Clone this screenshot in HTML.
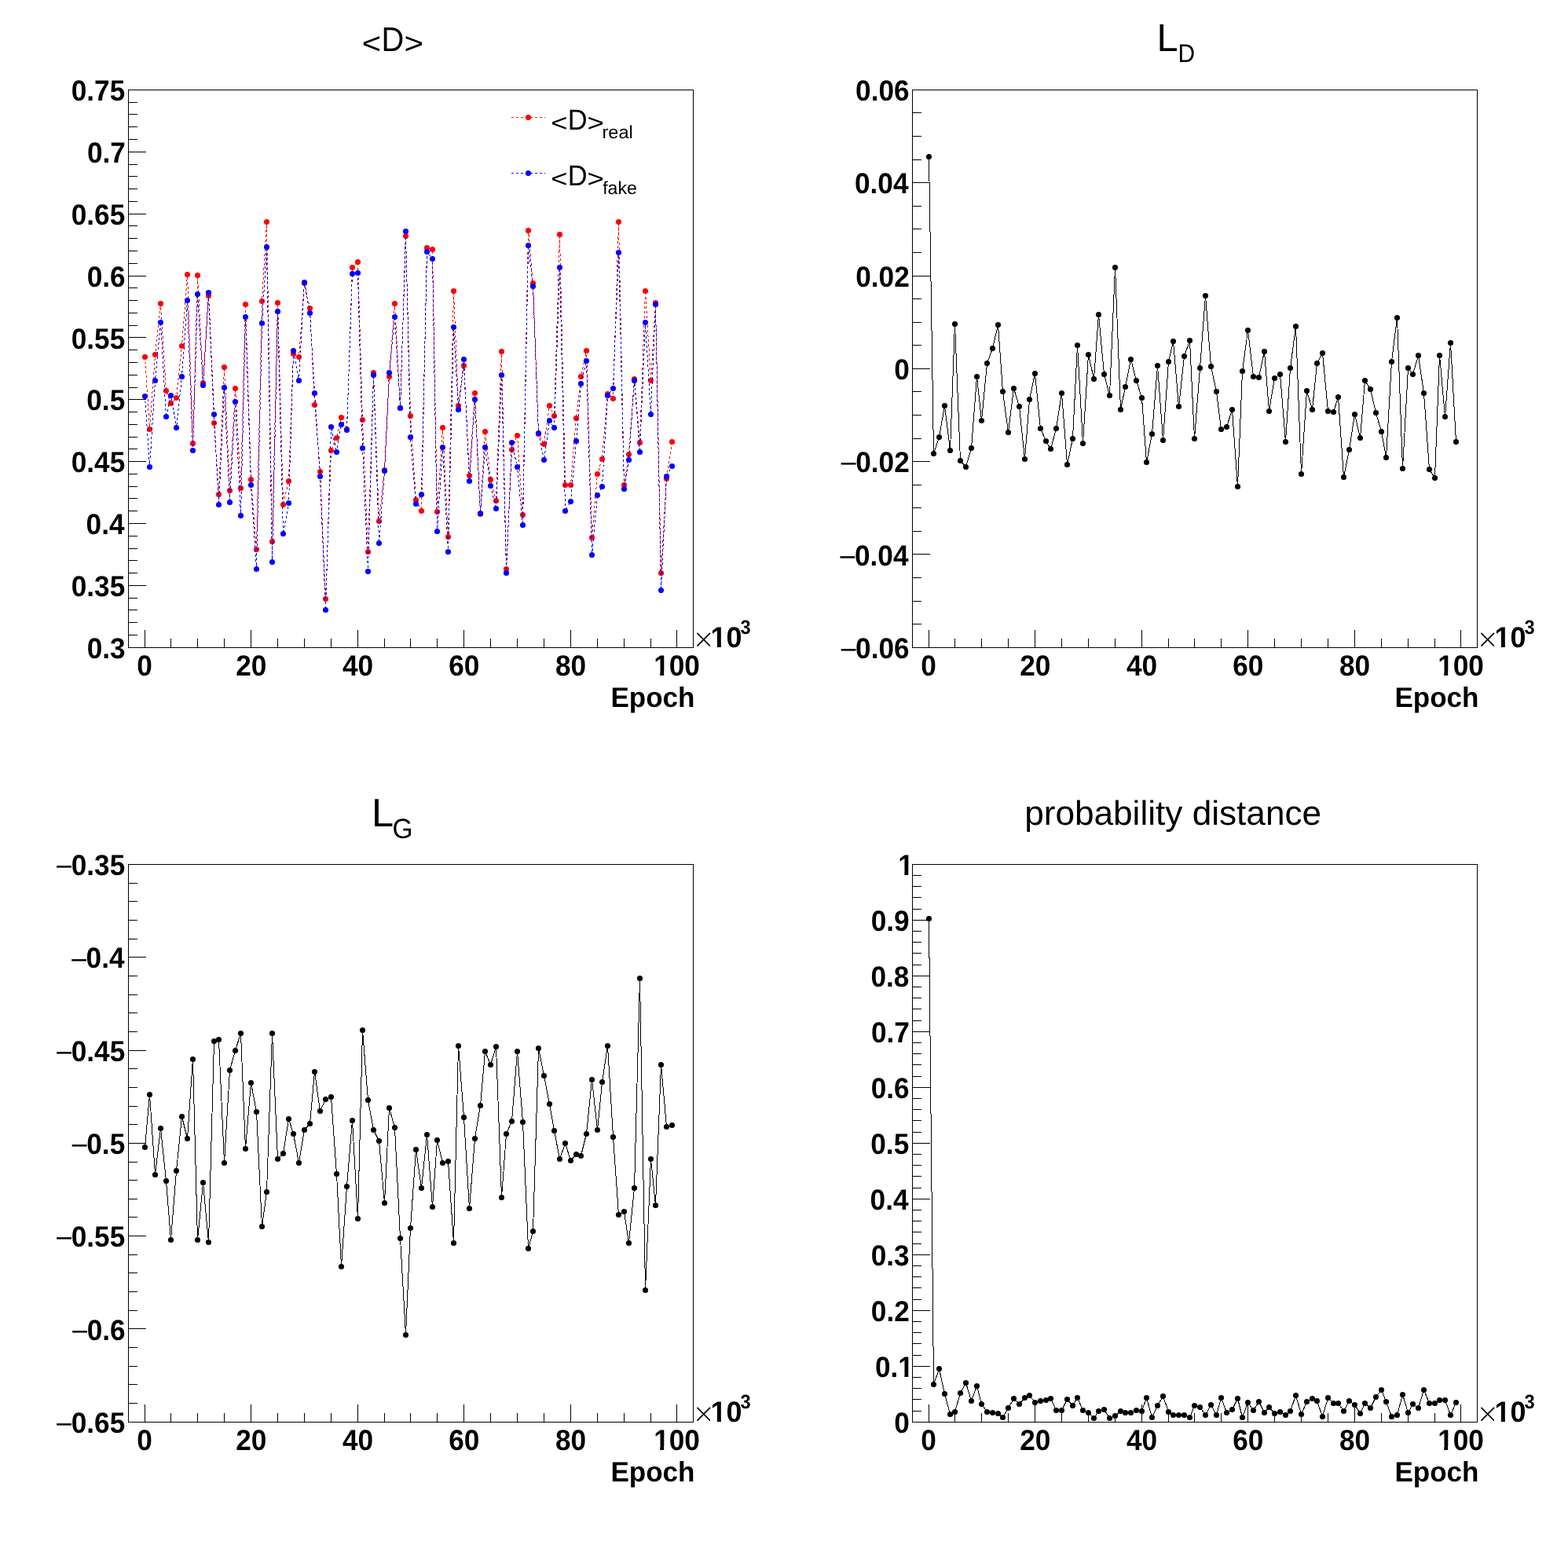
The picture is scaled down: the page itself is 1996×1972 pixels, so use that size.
<!DOCTYPE html>
<html lang="en"><head><meta charset="utf-8"><title>GAN training monitor</title>
<style>html,body{margin:0;padding:0;background:#fff}body{width:1996px;height:1972px;overflow:hidden}svg{display:block}text{font-family:'Liberation Sans', sans-serif;fill:#000;white-space:pre;text-rendering:geometricPrecision}.b{font-weight:bold}.x{font-family:"DejaVu Sans","Liberation Sans",sans-serif;font-weight:200}.ax{stroke:#000;stroke-width:1;fill:none;shape-rendering:crispEdges}.ln{fill:none;stroke-width:1;shape-rendering:crispEdges;stroke-linejoin:miter}</style></head><body>
<svg width="1996" height="1972" viewBox="0 0 1996 1972">
<defs><clipPath id="c1"><path clip-rule="evenodd" d="M0 0H1996V1972H0ZM831.78 854.87H840.26V860.61H831.78ZM845.18 854.87H851.55V860.61H845.18Z"/></clipPath><clipPath id="c2"><path clip-rule="evenodd" d="M0 0H1996V1972H0ZM904.21 819.67H912.86V825.41H904.21ZM917.89 819.67H924.39V825.41H917.89Z"/></clipPath><clipPath id="c3"><path clip-rule="evenodd" d="M0 0H1996V1972H0ZM1829.78 854.87H1838.26V860.61H1829.78ZM1843.18 854.87H1849.55V860.61H1843.18Z"/></clipPath><clipPath id="c4"><path clip-rule="evenodd" d="M0 0H1996V1972H0ZM1902.21 819.67H1910.86V825.41H1902.21ZM1915.89 819.67H1922.39V825.41H1915.89Z"/></clipPath><clipPath id="c5"><path clip-rule="evenodd" d="M0 0H1996V1972H0ZM831.78 1840.87H840.26V1846.61H831.78ZM845.18 1840.87H851.55V1846.61H845.18Z"/></clipPath><clipPath id="c6"><path clip-rule="evenodd" d="M0 0H1996V1972H0ZM904.21 1805.67H912.86V1811.41H904.21ZM917.89 1805.67H924.39V1811.41H917.89Z"/></clipPath><clipPath id="c7"><path clip-rule="evenodd" d="M0 0H1996V1972H0ZM1142.89 1748.28H1151.37V1754.01H1142.89ZM1156.3 1748.28H1162.67V1754.01H1156.3Z"/></clipPath><clipPath id="c8"><path clip-rule="evenodd" d="M0 0H1996V1972H0ZM1142.89 1109.35H1151.37V1115.09H1142.89ZM1156.3 1109.35H1162.67V1115.09H1156.3Z"/></clipPath><clipPath id="c9"><path clip-rule="evenodd" d="M0 0H1996V1972H0ZM1829.78 1840.87H1838.26V1846.61H1829.78ZM1843.18 1840.87H1849.55V1846.61H1843.18Z"/></clipPath><clipPath id="c10"><path clip-rule="evenodd" d="M0 0H1996V1972H0ZM1902.21 1805.67H1910.86V1811.41H1902.21ZM1915.89 1805.67H1922.39V1811.41H1915.89Z"/></clipPath></defs>
<rect x="0" y="0" width="1996" height="1972" fill="#fff"/>
<g id="pad1">
<text><tspan x="460.82" y="67.92" font-size="37.65" textLength="24.32" lengthAdjust="spacingAndGlyphs">&lt;</tspan><tspan x="485.61" y="65" font-size="43.48" textLength="28.77" lengthAdjust="spacingAndGlyphs">D</tspan><tspan x="514.5" y="67.92" font-size="37.65" textLength="24.56" lengthAdjust="spacingAndGlyphs">&gt;</tspan></text><path class="ln" stroke="#ff0000" stroke-dasharray="3 3" d="M651 149.5H694"/><circle cx="672.5" cy="149.5" r="3.55" fill="#ff0000"/><text><tspan x="701.29" y="167.44" font-size="31.18" textLength="21.19" lengthAdjust="spacingAndGlyphs">&lt;</tspan><tspan x="722.84" y="165" font-size="36.67" textLength="24.88" lengthAdjust="spacingAndGlyphs">D</tspan><tspan x="747.46" y="167.44" font-size="31.18" textLength="21.43" lengthAdjust="spacingAndGlyphs">&gt;</tspan><tspan x="766.47" y="175.9" font-size="22.9" textLength="39.22" lengthAdjust="spacingAndGlyphs">real</tspan></text><path class="ln" stroke="#0000ff" stroke-dasharray="3 3" d="M651 220.5H694"/><circle cx="672.5" cy="220.5" r="3.55" fill="#0000ff"/><text><tspan x="701.29" y="238.14" font-size="31.18" textLength="21.19" lengthAdjust="spacingAndGlyphs">&lt;</tspan><tspan x="722.84" y="235.7" font-size="36.67" textLength="24.88" lengthAdjust="spacingAndGlyphs">D</tspan><tspan x="747.46" y="238.14" font-size="31.18" textLength="21.43" lengthAdjust="spacingAndGlyphs">&gt;</tspan><tspan x="767.15" y="246.8" font-size="22.9" textLength="43.69" lengthAdjust="spacingAndGlyphs">fake</tspan></text>
<rect class="ax" x="163.5" y="114.5" width="719" height="710"/>
<path class="ax" d="M184.5 825V802M217.5 825V813M251.5 825V813M285.5 825V813M319.5 825V802M353.5 825V813M387.5 825V813M421.5 825V813M455.5 825V802M489.5 825V813M522.5 825V813M556.5 825V813M590.5 825V802M624.5 825V813M658.5 825V813M692.5 825V813M726.5 825V802M760.5 825V813M794.5 825V813M828.5 825V813M861.5 825V802M163 824.5H186M163 808.5H175M163 792.5H175M163 776.5H175M163 761.5H175M163 745.5H186M163 729.5H175M163 713.5H175M163 698.5H175M163 682.5H175M163 666.5H186M163 650.5H175M163 634.5H175M163 619.5H175M163 603.5H175M163 587.5H186M163 571.5H175M163 556.5H175M163 540.5H175M163 524.5H175M163 508.5H186M163 493.5H175M163 477.5H175M163 461.5H175M163 445.5H175M163 429.5H186M163 414.5H175M163 398.5H175M163 382.5H175M163 366.5H175M163 351.5H186M163 335.5H175M163 319.5H175M163 303.5H175M163 287.5H175M163 272.5H186M163 256.5H175M163 240.5H175M163 224.5H175M163 209.5H175M163 193.5H186M163 177.5H175M163 161.5H175M163 145.5H175M163 130.5H175M163 114.5H186"/>
<text class="b" x="110.66" y="837.9" font-size="37" textLength="48.91" lengthAdjust="spacingAndGlyphs">0.3</text>
<text class="b" x="90.74" y="759.02" font-size="37" textLength="68.47" lengthAdjust="spacingAndGlyphs">0.35</text>
<text class="b" x="109.6" y="680.14" font-size="37" textLength="48.91" lengthAdjust="spacingAndGlyphs">0.4</text>
<text class="b" x="90.74" y="601.26" font-size="37" textLength="68.47" lengthAdjust="spacingAndGlyphs">0.45</text>
<text class="b" x="110.3" y="522.38" font-size="37" textLength="48.91" lengthAdjust="spacingAndGlyphs">0.5</text>
<text class="b" x="90.74" y="443.5" font-size="37" textLength="68.47" lengthAdjust="spacingAndGlyphs">0.55</text>
<text class="b" x="110.66" y="364.62" font-size="37" textLength="48.91" lengthAdjust="spacingAndGlyphs">0.6</text>
<text class="b" x="90.74" y="285.74" font-size="37" textLength="68.47" lengthAdjust="spacingAndGlyphs">0.65</text>
<text class="b" x="111.01" y="206.86" font-size="37" textLength="48.91" lengthAdjust="spacingAndGlyphs">0.7</text>
<text class="b" x="90.74" y="127.98" font-size="37" textLength="68.47" lengthAdjust="spacingAndGlyphs">0.75</text>
<text class="b" x="174.24" y="859.5" font-size="37" textLength="19.56" lengthAdjust="spacingAndGlyphs">0</text>
<text class="b" x="300.13" y="859.5" font-size="37" textLength="39.13" lengthAdjust="spacingAndGlyphs">20</text>
<text class="b" x="436.06" y="859.5" font-size="37" textLength="39.13" lengthAdjust="spacingAndGlyphs">40</text>
<text class="b" x="571.28" y="859.5" font-size="37" textLength="39.13" lengthAdjust="spacingAndGlyphs">60</text>
<text class="b" x="706.95" y="859.5" font-size="37" textLength="39.13" lengthAdjust="spacingAndGlyphs">80</text>
<text class="b" x="832.13" y="859.5" font-size="37" textLength="58.69" lengthAdjust="spacingAndGlyphs" clip-path="url(#c1)">100</text>
<text><tspan class="b" x="777.42" y="900.2" font-size="35.8" textLength="107.1" lengthAdjust="spacingAndGlyphs">Epoch</tspan></text>
<text clip-path="url(#c2)"><tspan class="x" x="881.27" y="825.3" font-size="34.3" textLength="28.96" lengthAdjust="spacingAndGlyphs">×</tspan><tspan class="b" x="904.57" y="824.3" font-size="37" textLength="39.95" lengthAdjust="spacingAndGlyphs">10</tspan><tspan class="b" x="942.61" y="807.4" font-size="25.2" textLength="13.15" lengthAdjust="spacingAndGlyphs">3</tspan></text>
<polyline class="ln" stroke="#ff0000" stroke-dasharray="3 3" points="184.5,454.5 190.5,546.5 197.5,451.5 204.5,386.5 211.5,497.5 217.5,513.5 224.5,506.5 231.5,440.5 238.5,349.5 245.5,564.5 251.5,350.5 258.5,487.5 265.5,376.5 272.5,538.5 278.5,629.5 285.5,467.5 292.5,624.5 299.5,494.5 306.5,621.5 312.5,387.5 319.5,610.5 326.5,699.5 333.5,383.5 339.5,282.5 346.5,689.5 353.5,385.5 360.5,642.5 367.5,612.5 373.5,450.5 380.5,454.5 387.5,360.5 394.5,392.5 400.5,515.5 407.5,600.5 414.5,762.5 421.5,573.5 428.5,557.5 434.5,531.5 441.5,546.5 448.5,340.5 455.5,333.5 461.5,534.5 468.5,702.5 475.5,474.5 482.5,663.5 489.5,598.5 495.5,479.5 502.5,386.5 509.5,519.5 516.5,300.5 522.5,529.5 529.5,636.5 536.5,650.5 543.5,315.5 550.5,317.5 556.5,651.5 563.5,544.5 570.5,683.5 577.5,370.5 583.5,516.5 590.5,465.5 597.5,605.5 604.5,500.5 611.5,654.5 617.5,549.5 624.5,610.5 631.5,637.5 638.5,447.5 644.5,724.5 651.5,572.5 658.5,554.5 665.5,655.5 672.5,293.5 678.5,360.5 685.5,552.5 692.5,565.5 699.5,516.5 705.5,529.5 712.5,298.5 719.5,617.5 726.5,617.5 733.5,532.5 739.5,479.5 746.5,446.5 753.5,684.5 760.5,603.5 766.5,584.5 773.5,501.5 780.5,507.5 787.5,282.5 794.5,617.5 800.5,578.5 807.5,482.5 814.5,563.5 821.5,370.5 828.5,484.5 834.5,385.5 841.5,729.5 848.5,609.5 855.5,562.5"/>
<g fill="#ff0000"><circle cx="184.5" cy="454.5" r="3.55"/><circle cx="190.5" cy="546.5" r="3.55"/><circle cx="197.5" cy="451.5" r="3.55"/><circle cx="204.5" cy="386.5" r="3.55"/><circle cx="211.5" cy="497.5" r="3.55"/><circle cx="217.5" cy="513.5" r="3.55"/><circle cx="224.5" cy="506.5" r="3.55"/><circle cx="231.5" cy="440.5" r="3.55"/><circle cx="238.5" cy="349.5" r="3.55"/><circle cx="245.5" cy="564.5" r="3.55"/><circle cx="251.5" cy="350.5" r="3.55"/><circle cx="258.5" cy="487.5" r="3.55"/><circle cx="265.5" cy="376.5" r="3.55"/><circle cx="272.5" cy="538.5" r="3.55"/><circle cx="278.5" cy="629.5" r="3.55"/><circle cx="285.5" cy="467.5" r="3.55"/><circle cx="292.5" cy="624.5" r="3.55"/><circle cx="299.5" cy="494.5" r="3.55"/><circle cx="306.5" cy="621.5" r="3.55"/><circle cx="312.5" cy="387.5" r="3.55"/><circle cx="319.5" cy="610.5" r="3.55"/><circle cx="326.5" cy="699.5" r="3.55"/><circle cx="333.5" cy="383.5" r="3.55"/><circle cx="339.5" cy="282.5" r="3.55"/><circle cx="346.5" cy="689.5" r="3.55"/><circle cx="353.5" cy="385.5" r="3.55"/><circle cx="360.5" cy="642.5" r="3.55"/><circle cx="367.5" cy="612.5" r="3.55"/><circle cx="373.5" cy="450.5" r="3.55"/><circle cx="380.5" cy="454.5" r="3.55"/><circle cx="387.5" cy="360.5" r="3.55"/><circle cx="394.5" cy="392.5" r="3.55"/><circle cx="400.5" cy="515.5" r="3.55"/><circle cx="407.5" cy="600.5" r="3.55"/><circle cx="414.5" cy="762.5" r="3.55"/><circle cx="421.5" cy="573.5" r="3.55"/><circle cx="428.5" cy="557.5" r="3.55"/><circle cx="434.5" cy="531.5" r="3.55"/><circle cx="441.5" cy="546.5" r="3.55"/><circle cx="448.5" cy="340.5" r="3.55"/><circle cx="455.5" cy="333.5" r="3.55"/><circle cx="461.5" cy="534.5" r="3.55"/><circle cx="468.5" cy="702.5" r="3.55"/><circle cx="475.5" cy="474.5" r="3.55"/><circle cx="482.5" cy="663.5" r="3.55"/><circle cx="489.5" cy="598.5" r="3.55"/><circle cx="495.5" cy="479.5" r="3.55"/><circle cx="502.5" cy="386.5" r="3.55"/><circle cx="509.5" cy="519.5" r="3.55"/><circle cx="516.5" cy="300.5" r="3.55"/><circle cx="522.5" cy="529.5" r="3.55"/><circle cx="529.5" cy="636.5" r="3.55"/><circle cx="536.5" cy="650.5" r="3.55"/><circle cx="543.5" cy="315.5" r="3.55"/><circle cx="550.5" cy="317.5" r="3.55"/><circle cx="556.5" cy="651.5" r="3.55"/><circle cx="563.5" cy="544.5" r="3.55"/><circle cx="570.5" cy="683.5" r="3.55"/><circle cx="577.5" cy="370.5" r="3.55"/><circle cx="583.5" cy="516.5" r="3.55"/><circle cx="590.5" cy="465.5" r="3.55"/><circle cx="597.5" cy="605.5" r="3.55"/><circle cx="604.5" cy="500.5" r="3.55"/><circle cx="611.5" cy="654.5" r="3.55"/><circle cx="617.5" cy="549.5" r="3.55"/><circle cx="624.5" cy="610.5" r="3.55"/><circle cx="631.5" cy="637.5" r="3.55"/><circle cx="638.5" cy="447.5" r="3.55"/><circle cx="644.5" cy="724.5" r="3.55"/><circle cx="651.5" cy="572.5" r="3.55"/><circle cx="658.5" cy="554.5" r="3.55"/><circle cx="665.5" cy="655.5" r="3.55"/><circle cx="672.5" cy="293.5" r="3.55"/><circle cx="678.5" cy="360.5" r="3.55"/><circle cx="685.5" cy="552.5" r="3.55"/><circle cx="692.5" cy="565.5" r="3.55"/><circle cx="699.5" cy="516.5" r="3.55"/><circle cx="705.5" cy="529.5" r="3.55"/><circle cx="712.5" cy="298.5" r="3.55"/><circle cx="719.5" cy="617.5" r="3.55"/><circle cx="726.5" cy="617.5" r="3.55"/><circle cx="733.5" cy="532.5" r="3.55"/><circle cx="739.5" cy="479.5" r="3.55"/><circle cx="746.5" cy="446.5" r="3.55"/><circle cx="753.5" cy="684.5" r="3.55"/><circle cx="760.5" cy="603.5" r="3.55"/><circle cx="766.5" cy="584.5" r="3.55"/><circle cx="773.5" cy="501.5" r="3.55"/><circle cx="780.5" cy="507.5" r="3.55"/><circle cx="787.5" cy="282.5" r="3.55"/><circle cx="794.5" cy="617.5" r="3.55"/><circle cx="800.5" cy="578.5" r="3.55"/><circle cx="807.5" cy="482.5" r="3.55"/><circle cx="814.5" cy="563.5" r="3.55"/><circle cx="821.5" cy="370.5" r="3.55"/><circle cx="828.5" cy="484.5" r="3.55"/><circle cx="834.5" cy="385.5" r="3.55"/><circle cx="841.5" cy="729.5" r="3.55"/><circle cx="848.5" cy="609.5" r="3.55"/><circle cx="855.5" cy="562.5" r="3.55"/></g>
<polyline class="ln" stroke="#0000ff" stroke-dasharray="3 3" points="184.5,504.5 190.5,594.5 197.5,484.5 204.5,410.5 211.5,530.5 217.5,503.5 224.5,544.5 231.5,479.5 238.5,382.5 245.5,573.5 251.5,374.5 258.5,490.5 265.5,372.5 272.5,527.5 278.5,642.5 285.5,493.5 292.5,639.5 299.5,511.5 306.5,656.5 312.5,403.5 319.5,617.5 326.5,724.5 333.5,411.5 339.5,314.5 346.5,715.5 353.5,396.5 360.5,679.5 367.5,640.5 373.5,446.5 380.5,484.5 387.5,359.5 394.5,398.5 400.5,500.5 407.5,606.5 414.5,776.5 421.5,543.5 428.5,575.5 434.5,540.5 441.5,547.5 448.5,348.5 455.5,347.5 461.5,570.5 468.5,727.5 475.5,477.5 482.5,691.5 489.5,599.5 495.5,474.5 502.5,403.5 509.5,519.5 516.5,294.5 522.5,556.5 529.5,641.5 536.5,629.5 543.5,320.5 550.5,329.5 556.5,676.5 563.5,569.5 570.5,702.5 577.5,416.5 583.5,521.5 590.5,457.5 597.5,612.5 604.5,508.5 611.5,653.5 617.5,569.5 624.5,618.5 631.5,647.5 638.5,477.5 644.5,729.5 651.5,563.5 658.5,594.5 665.5,668.5 672.5,312.5 678.5,364.5 685.5,551.5 692.5,585.5 699.5,535.5 705.5,544.5 712.5,340.5 719.5,650.5 726.5,638.5 733.5,561.5 739.5,488.5 746.5,459.5 753.5,706.5 760.5,630.5 766.5,619.5 773.5,503.5 780.5,494.5 787.5,321.5 794.5,622.5 800.5,585.5 807.5,484.5 814.5,575.5 821.5,410.5 828.5,527.5 834.5,387.5 841.5,751.5 848.5,606.5 855.5,593.5"/>
<g fill="#0000ff"><circle cx="184.5" cy="504.5" r="3.55"/><circle cx="190.5" cy="594.5" r="3.55"/><circle cx="197.5" cy="484.5" r="3.55"/><circle cx="204.5" cy="410.5" r="3.55"/><circle cx="211.5" cy="530.5" r="3.55"/><circle cx="217.5" cy="503.5" r="3.55"/><circle cx="224.5" cy="544.5" r="3.55"/><circle cx="231.5" cy="479.5" r="3.55"/><circle cx="238.5" cy="382.5" r="3.55"/><circle cx="245.5" cy="573.5" r="3.55"/><circle cx="251.5" cy="374.5" r="3.55"/><circle cx="258.5" cy="490.5" r="3.55"/><circle cx="265.5" cy="372.5" r="3.55"/><circle cx="272.5" cy="527.5" r="3.55"/><circle cx="278.5" cy="642.5" r="3.55"/><circle cx="285.5" cy="493.5" r="3.55"/><circle cx="292.5" cy="639.5" r="3.55"/><circle cx="299.5" cy="511.5" r="3.55"/><circle cx="306.5" cy="656.5" r="3.55"/><circle cx="312.5" cy="403.5" r="3.55"/><circle cx="319.5" cy="617.5" r="3.55"/><circle cx="326.5" cy="724.5" r="3.55"/><circle cx="333.5" cy="411.5" r="3.55"/><circle cx="339.5" cy="314.5" r="3.55"/><circle cx="346.5" cy="715.5" r="3.55"/><circle cx="353.5" cy="396.5" r="3.55"/><circle cx="360.5" cy="679.5" r="3.55"/><circle cx="367.5" cy="640.5" r="3.55"/><circle cx="373.5" cy="446.5" r="3.55"/><circle cx="380.5" cy="484.5" r="3.55"/><circle cx="387.5" cy="359.5" r="3.55"/><circle cx="394.5" cy="398.5" r="3.55"/><circle cx="400.5" cy="500.5" r="3.55"/><circle cx="407.5" cy="606.5" r="3.55"/><circle cx="414.5" cy="776.5" r="3.55"/><circle cx="421.5" cy="543.5" r="3.55"/><circle cx="428.5" cy="575.5" r="3.55"/><circle cx="434.5" cy="540.5" r="3.55"/><circle cx="441.5" cy="547.5" r="3.55"/><circle cx="448.5" cy="348.5" r="3.55"/><circle cx="455.5" cy="347.5" r="3.55"/><circle cx="461.5" cy="570.5" r="3.55"/><circle cx="468.5" cy="727.5" r="3.55"/><circle cx="475.5" cy="477.5" r="3.55"/><circle cx="482.5" cy="691.5" r="3.55"/><circle cx="489.5" cy="599.5" r="3.55"/><circle cx="495.5" cy="474.5" r="3.55"/><circle cx="502.5" cy="403.5" r="3.55"/><circle cx="509.5" cy="519.5" r="3.55"/><circle cx="516.5" cy="294.5" r="3.55"/><circle cx="522.5" cy="556.5" r="3.55"/><circle cx="529.5" cy="641.5" r="3.55"/><circle cx="536.5" cy="629.5" r="3.55"/><circle cx="543.5" cy="320.5" r="3.55"/><circle cx="550.5" cy="329.5" r="3.55"/><circle cx="556.5" cy="676.5" r="3.55"/><circle cx="563.5" cy="569.5" r="3.55"/><circle cx="570.5" cy="702.5" r="3.55"/><circle cx="577.5" cy="416.5" r="3.55"/><circle cx="583.5" cy="521.5" r="3.55"/><circle cx="590.5" cy="457.5" r="3.55"/><circle cx="597.5" cy="612.5" r="3.55"/><circle cx="604.5" cy="508.5" r="3.55"/><circle cx="611.5" cy="653.5" r="3.55"/><circle cx="617.5" cy="569.5" r="3.55"/><circle cx="624.5" cy="618.5" r="3.55"/><circle cx="631.5" cy="647.5" r="3.55"/><circle cx="638.5" cy="477.5" r="3.55"/><circle cx="644.5" cy="729.5" r="3.55"/><circle cx="651.5" cy="563.5" r="3.55"/><circle cx="658.5" cy="594.5" r="3.55"/><circle cx="665.5" cy="668.5" r="3.55"/><circle cx="672.5" cy="312.5" r="3.55"/><circle cx="678.5" cy="364.5" r="3.55"/><circle cx="685.5" cy="551.5" r="3.55"/><circle cx="692.5" cy="585.5" r="3.55"/><circle cx="699.5" cy="535.5" r="3.55"/><circle cx="705.5" cy="544.5" r="3.55"/><circle cx="712.5" cy="340.5" r="3.55"/><circle cx="719.5" cy="650.5" r="3.55"/><circle cx="726.5" cy="638.5" r="3.55"/><circle cx="733.5" cy="561.5" r="3.55"/><circle cx="739.5" cy="488.5" r="3.55"/><circle cx="746.5" cy="459.5" r="3.55"/><circle cx="753.5" cy="706.5" r="3.55"/><circle cx="760.5" cy="630.5" r="3.55"/><circle cx="766.5" cy="619.5" r="3.55"/><circle cx="773.5" cy="503.5" r="3.55"/><circle cx="780.5" cy="494.5" r="3.55"/><circle cx="787.5" cy="321.5" r="3.55"/><circle cx="794.5" cy="622.5" r="3.55"/><circle cx="800.5" cy="585.5" r="3.55"/><circle cx="807.5" cy="484.5" r="3.55"/><circle cx="814.5" cy="575.5" r="3.55"/><circle cx="821.5" cy="410.5" r="3.55"/><circle cx="828.5" cy="527.5" r="3.55"/><circle cx="834.5" cy="387.5" r="3.55"/><circle cx="841.5" cy="751.5" r="3.55"/><circle cx="848.5" cy="606.5" r="3.55"/><circle cx="855.5" cy="593.5" r="3.55"/></g>
</g>
<g id="pad2">
<text><tspan x="1472.4" y="65" font-size="49.6" textLength="27.12" lengthAdjust="spacingAndGlyphs">L</tspan><tspan x="1499.61" y="78.8" font-size="32.6" textLength="21.6" lengthAdjust="spacingAndGlyphs">D</tspan></text>
<rect class="ax" x="1161.5" y="114.5" width="719" height="710"/>
<path class="ax" d="M1182.5 825V802M1215.5 825V813M1249.5 825V813M1283.5 825V813M1317.5 825V802M1351.5 825V813M1385.5 825V813M1419.5 825V813M1453.5 825V802M1487.5 825V813M1520.5 825V813M1554.5 825V813M1588.5 825V802M1622.5 825V813M1656.5 825V813M1690.5 825V813M1724.5 825V802M1758.5 825V813M1792.5 825V813M1826.5 825V813M1859.5 825V802M1161 824.5H1184M1161 794.5H1173M1161 765.5H1173M1161 735.5H1173M1161 705.5H1184M1161 676.5H1173M1161 646.5H1173M1161 617.5H1173M1161 587.5H1184M1161 558.5H1173M1161 528.5H1173M1161 498.5H1173M1161 469.5H1184M1161 439.5H1173M1161 410.5H1173M1161 380.5H1173M1161 351.5H1184M1161 321.5H1173M1161 291.5H1173M1161 262.5H1173M1161 232.5H1184M1161 203.5H1173M1161 173.5H1173M1161 143.5H1173M1161 114.5H1184"/>
<text><tspan x="1068.66" y="839.1" font-size="35" textLength="22.64" lengthAdjust="spacingAndGlyphs">−</tspan><tspan class="b" x="1089.09" y="837.9" font-size="37" textLength="68.47" lengthAdjust="spacingAndGlyphs">0.06</tspan></text>
<text><tspan x="1067.61" y="720.78" font-size="35" textLength="22.64" lengthAdjust="spacingAndGlyphs">−</tspan><tspan class="b" x="1088.04" y="719.58" font-size="37" textLength="68.47" lengthAdjust="spacingAndGlyphs">0.04</tspan></text>
<text><tspan x="1068.84" y="602.46" font-size="35" textLength="22.64" lengthAdjust="spacingAndGlyphs">−</tspan><tspan class="b" x="1089.27" y="601.26" font-size="37" textLength="68.47" lengthAdjust="spacingAndGlyphs">0.02</tspan></text>
<text class="b" x="1138.18" y="482.94" font-size="37" textLength="19.56" lengthAdjust="spacingAndGlyphs">0</text>
<text class="b" x="1089.27" y="364.62" font-size="37" textLength="68.47" lengthAdjust="spacingAndGlyphs">0.02</text>
<text class="b" x="1088.04" y="246.3" font-size="37" textLength="68.47" lengthAdjust="spacingAndGlyphs">0.04</text>
<text class="b" x="1089.09" y="127.98" font-size="37" textLength="68.47" lengthAdjust="spacingAndGlyphs">0.06</text>
<text class="b" x="1172.24" y="859.5" font-size="37" textLength="19.56" lengthAdjust="spacingAndGlyphs">0</text>
<text class="b" x="1298.13" y="859.5" font-size="37" textLength="39.13" lengthAdjust="spacingAndGlyphs">20</text>
<text class="b" x="1434.06" y="859.5" font-size="37" textLength="39.13" lengthAdjust="spacingAndGlyphs">40</text>
<text class="b" x="1569.28" y="859.5" font-size="37" textLength="39.13" lengthAdjust="spacingAndGlyphs">60</text>
<text class="b" x="1704.95" y="859.5" font-size="37" textLength="39.13" lengthAdjust="spacingAndGlyphs">80</text>
<text class="b" x="1830.13" y="859.5" font-size="37" textLength="58.69" lengthAdjust="spacingAndGlyphs" clip-path="url(#c3)">100</text>
<text><tspan class="b" x="1775.42" y="900.2" font-size="35.8" textLength="107.1" lengthAdjust="spacingAndGlyphs">Epoch</tspan></text>
<text clip-path="url(#c4)"><tspan class="x" x="1879.27" y="825.3" font-size="34.3" textLength="28.96" lengthAdjust="spacingAndGlyphs">×</tspan><tspan class="b" x="1902.57" y="824.3" font-size="37" textLength="39.95" lengthAdjust="spacingAndGlyphs">10</tspan><tspan class="b" x="1940.61" y="807.4" font-size="25.2" textLength="13.15" lengthAdjust="spacingAndGlyphs">3</tspan></text>
<polyline class="ln" stroke="#000000" points="1182.5,199.5 1188.5,577.5 1195.5,556.5 1202.5,516.5 1209.5,573.5 1215.5,412.5 1222.5,586.5 1229.5,594.5 1236.5,570.5 1243.5,479.5 1249.5,535.5 1256.5,462.5 1263.5,443.5 1270.5,413.5 1276.5,498.5 1283.5,550.5 1290.5,494.5 1297.5,517.5 1304.5,584.5 1310.5,508.5 1317.5,475.5 1324.5,545.5 1331.5,561.5 1337.5,571.5 1344.5,545.5 1351.5,500.5 1358.5,591.5 1365.5,558.5 1371.5,439.5 1378.5,564.5 1385.5,451.5 1392.5,482.5 1398.5,400.5 1405.5,476.5 1412.5,503.5 1419.5,340.5 1426.5,521.5 1432.5,492.5 1439.5,457.5 1446.5,484.5 1453.5,506.5 1459.5,588.5 1466.5,552.5 1473.5,465.5 1480.5,560.5 1487.5,460.5 1493.5,434.5 1500.5,517.5 1507.5,453.5 1514.5,433.5 1520.5,558.5 1527.5,468.5 1534.5,376.5 1541.5,466.5 1548.5,498.5 1554.5,546.5 1561.5,543.5 1568.5,521.5 1575.5,619.5 1581.5,472.5 1588.5,420.5 1595.5,479.5 1602.5,480.5 1609.5,447.5 1615.5,523.5 1622.5,481.5 1629.5,476.5 1636.5,562.5 1642.5,468.5 1649.5,415.5 1656.5,603.5 1663.5,497.5 1670.5,521.5 1676.5,462.5 1683.5,449.5 1690.5,523.5 1697.5,524.5 1703.5,505.5 1710.5,607.5 1717.5,572.5 1724.5,527.5 1731.5,557.5 1737.5,484.5 1744.5,495.5 1751.5,525.5 1758.5,549.5 1764.5,582.5 1771.5,460.5 1778.5,404.5 1785.5,596.5 1792.5,468.5 1798.5,476.5 1805.5,452.5 1812.5,500.5 1819.5,597.5 1826.5,608.5 1832.5,452.5 1839.5,530.5 1846.5,436.5 1853.5,562.5"/>
<g fill="#000000"><circle cx="1182.5" cy="199.5" r="3.55"/><circle cx="1188.5" cy="577.5" r="3.55"/><circle cx="1195.5" cy="556.5" r="3.55"/><circle cx="1202.5" cy="516.5" r="3.55"/><circle cx="1209.5" cy="573.5" r="3.55"/><circle cx="1215.5" cy="412.5" r="3.55"/><circle cx="1222.5" cy="586.5" r="3.55"/><circle cx="1229.5" cy="594.5" r="3.55"/><circle cx="1236.5" cy="570.5" r="3.55"/><circle cx="1243.5" cy="479.5" r="3.55"/><circle cx="1249.5" cy="535.5" r="3.55"/><circle cx="1256.5" cy="462.5" r="3.55"/><circle cx="1263.5" cy="443.5" r="3.55"/><circle cx="1270.5" cy="413.5" r="3.55"/><circle cx="1276.5" cy="498.5" r="3.55"/><circle cx="1283.5" cy="550.5" r="3.55"/><circle cx="1290.5" cy="494.5" r="3.55"/><circle cx="1297.5" cy="517.5" r="3.55"/><circle cx="1304.5" cy="584.5" r="3.55"/><circle cx="1310.5" cy="508.5" r="3.55"/><circle cx="1317.5" cy="475.5" r="3.55"/><circle cx="1324.5" cy="545.5" r="3.55"/><circle cx="1331.5" cy="561.5" r="3.55"/><circle cx="1337.5" cy="571.5" r="3.55"/><circle cx="1344.5" cy="545.5" r="3.55"/><circle cx="1351.5" cy="500.5" r="3.55"/><circle cx="1358.5" cy="591.5" r="3.55"/><circle cx="1365.5" cy="558.5" r="3.55"/><circle cx="1371.5" cy="439.5" r="3.55"/><circle cx="1378.5" cy="564.5" r="3.55"/><circle cx="1385.5" cy="451.5" r="3.55"/><circle cx="1392.5" cy="482.5" r="3.55"/><circle cx="1398.5" cy="400.5" r="3.55"/><circle cx="1405.5" cy="476.5" r="3.55"/><circle cx="1412.5" cy="503.5" r="3.55"/><circle cx="1419.5" cy="340.5" r="3.55"/><circle cx="1426.5" cy="521.5" r="3.55"/><circle cx="1432.5" cy="492.5" r="3.55"/><circle cx="1439.5" cy="457.5" r="3.55"/><circle cx="1446.5" cy="484.5" r="3.55"/><circle cx="1453.5" cy="506.5" r="3.55"/><circle cx="1459.5" cy="588.5" r="3.55"/><circle cx="1466.5" cy="552.5" r="3.55"/><circle cx="1473.5" cy="465.5" r="3.55"/><circle cx="1480.5" cy="560.5" r="3.55"/><circle cx="1487.5" cy="460.5" r="3.55"/><circle cx="1493.5" cy="434.5" r="3.55"/><circle cx="1500.5" cy="517.5" r="3.55"/><circle cx="1507.5" cy="453.5" r="3.55"/><circle cx="1514.5" cy="433.5" r="3.55"/><circle cx="1520.5" cy="558.5" r="3.55"/><circle cx="1527.5" cy="468.5" r="3.55"/><circle cx="1534.5" cy="376.5" r="3.55"/><circle cx="1541.5" cy="466.5" r="3.55"/><circle cx="1548.5" cy="498.5" r="3.55"/><circle cx="1554.5" cy="546.5" r="3.55"/><circle cx="1561.5" cy="543.5" r="3.55"/><circle cx="1568.5" cy="521.5" r="3.55"/><circle cx="1575.5" cy="619.5" r="3.55"/><circle cx="1581.5" cy="472.5" r="3.55"/><circle cx="1588.5" cy="420.5" r="3.55"/><circle cx="1595.5" cy="479.5" r="3.55"/><circle cx="1602.5" cy="480.5" r="3.55"/><circle cx="1609.5" cy="447.5" r="3.55"/><circle cx="1615.5" cy="523.5" r="3.55"/><circle cx="1622.5" cy="481.5" r="3.55"/><circle cx="1629.5" cy="476.5" r="3.55"/><circle cx="1636.5" cy="562.5" r="3.55"/><circle cx="1642.5" cy="468.5" r="3.55"/><circle cx="1649.5" cy="415.5" r="3.55"/><circle cx="1656.5" cy="603.5" r="3.55"/><circle cx="1663.5" cy="497.5" r="3.55"/><circle cx="1670.5" cy="521.5" r="3.55"/><circle cx="1676.5" cy="462.5" r="3.55"/><circle cx="1683.5" cy="449.5" r="3.55"/><circle cx="1690.5" cy="523.5" r="3.55"/><circle cx="1697.5" cy="524.5" r="3.55"/><circle cx="1703.5" cy="505.5" r="3.55"/><circle cx="1710.5" cy="607.5" r="3.55"/><circle cx="1717.5" cy="572.5" r="3.55"/><circle cx="1724.5" cy="527.5" r="3.55"/><circle cx="1731.5" cy="557.5" r="3.55"/><circle cx="1737.5" cy="484.5" r="3.55"/><circle cx="1744.5" cy="495.5" r="3.55"/><circle cx="1751.5" cy="525.5" r="3.55"/><circle cx="1758.5" cy="549.5" r="3.55"/><circle cx="1764.5" cy="582.5" r="3.55"/><circle cx="1771.5" cy="460.5" r="3.55"/><circle cx="1778.5" cy="404.5" r="3.55"/><circle cx="1785.5" cy="596.5" r="3.55"/><circle cx="1792.5" cy="468.5" r="3.55"/><circle cx="1798.5" cy="476.5" r="3.55"/><circle cx="1805.5" cy="452.5" r="3.55"/><circle cx="1812.5" cy="500.5" r="3.55"/><circle cx="1819.5" cy="597.5" r="3.55"/><circle cx="1826.5" cy="608.5" r="3.55"/><circle cx="1832.5" cy="452.5" r="3.55"/><circle cx="1839.5" cy="530.5" r="3.55"/><circle cx="1846.5" cy="436.5" r="3.55"/><circle cx="1853.5" cy="562.5" r="3.55"/></g>
</g>
<g id="pad3">
<text><tspan x="473.06" y="1051.8" font-size="50.4" textLength="28.12" lengthAdjust="spacingAndGlyphs">L</tspan><tspan x="499.53" y="1066.8" font-size="35.4" textLength="26.01" lengthAdjust="spacingAndGlyphs">G</tspan></text>
<rect class="ax" x="163.5" y="1100.5" width="719" height="710"/>
<path class="ax" d="M184.5 1811V1788M217.5 1811V1799M251.5 1811V1799M285.5 1811V1799M319.5 1811V1788M353.5 1811V1799M387.5 1811V1799M421.5 1811V1799M455.5 1811V1788M489.5 1811V1799M522.5 1811V1799M556.5 1811V1799M590.5 1811V1788M624.5 1811V1799M658.5 1811V1799M692.5 1811V1799M726.5 1811V1788M760.5 1811V1799M794.5 1811V1799M828.5 1811V1799M861.5 1811V1788M163 1810.5H186M163 1786.5H175M163 1762.5H175M163 1739.5H175M163 1715.5H175M163 1691.5H186M163 1668.5H175M163 1644.5H175M163 1620.5H175M163 1597.5H175M163 1573.5H186M163 1549.5H175M163 1526.5H175M163 1502.5H175M163 1479.5H175M163 1455.5H186M163 1431.5H175M163 1408.5H175M163 1384.5H175M163 1360.5H175M163 1337.5H186M163 1313.5H175M163 1289.5H175M163 1266.5H175M163 1242.5H175M163 1218.5H186M163 1195.5H175M163 1171.5H175M163 1147.5H175M163 1124.5H175M163 1100.5H186"/>
<text><tspan x="70.31" y="1825.1" font-size="35" textLength="22.64" lengthAdjust="spacingAndGlyphs">−</tspan><tspan class="b" x="90.74" y="1823.9" font-size="37" textLength="68.47" lengthAdjust="spacingAndGlyphs">0.65</tspan></text>
<text><tspan x="90.23" y="1706.78" font-size="35" textLength="22.64" lengthAdjust="spacingAndGlyphs">−</tspan><tspan class="b" x="110.66" y="1705.58" font-size="37" textLength="48.91" lengthAdjust="spacingAndGlyphs">0.6</tspan></text>
<text><tspan x="70.31" y="1588.46" font-size="35" textLength="22.64" lengthAdjust="spacingAndGlyphs">−</tspan><tspan class="b" x="90.74" y="1587.26" font-size="37" textLength="68.47" lengthAdjust="spacingAndGlyphs">0.55</tspan></text>
<text><tspan x="89.87" y="1470.14" font-size="35" textLength="22.64" lengthAdjust="spacingAndGlyphs">−</tspan><tspan class="b" x="110.3" y="1468.94" font-size="37" textLength="48.91" lengthAdjust="spacingAndGlyphs">0.5</tspan></text>
<text><tspan x="70.31" y="1351.82" font-size="35" textLength="22.64" lengthAdjust="spacingAndGlyphs">−</tspan><tspan class="b" x="90.74" y="1350.62" font-size="37" textLength="68.47" lengthAdjust="spacingAndGlyphs">0.45</tspan></text>
<text><tspan x="89.17" y="1233.5" font-size="35" textLength="22.64" lengthAdjust="spacingAndGlyphs">−</tspan><tspan class="b" x="109.6" y="1232.3" font-size="37" textLength="48.91" lengthAdjust="spacingAndGlyphs">0.4</tspan></text>
<text><tspan x="70.31" y="1115.18" font-size="35" textLength="22.64" lengthAdjust="spacingAndGlyphs">−</tspan><tspan class="b" x="90.74" y="1113.98" font-size="37" textLength="68.47" lengthAdjust="spacingAndGlyphs">0.35</tspan></text>
<text class="b" x="174.24" y="1845.5" font-size="37" textLength="19.56" lengthAdjust="spacingAndGlyphs">0</text>
<text class="b" x="300.13" y="1845.5" font-size="37" textLength="39.13" lengthAdjust="spacingAndGlyphs">20</text>
<text class="b" x="436.06" y="1845.5" font-size="37" textLength="39.13" lengthAdjust="spacingAndGlyphs">40</text>
<text class="b" x="571.28" y="1845.5" font-size="37" textLength="39.13" lengthAdjust="spacingAndGlyphs">60</text>
<text class="b" x="706.95" y="1845.5" font-size="37" textLength="39.13" lengthAdjust="spacingAndGlyphs">80</text>
<text class="b" x="832.13" y="1845.5" font-size="37" textLength="58.69" lengthAdjust="spacingAndGlyphs" clip-path="url(#c5)">100</text>
<text><tspan class="b" x="777.42" y="1886.2" font-size="35.8" textLength="107.1" lengthAdjust="spacingAndGlyphs">Epoch</tspan></text>
<text clip-path="url(#c6)"><tspan class="x" x="881.27" y="1811.3" font-size="34.3" textLength="28.96" lengthAdjust="spacingAndGlyphs">×</tspan><tspan class="b" x="904.57" y="1810.3" font-size="37" textLength="39.95" lengthAdjust="spacingAndGlyphs">10</tspan><tspan class="b" x="942.61" y="1793.4" font-size="25.2" textLength="13.15" lengthAdjust="spacingAndGlyphs">3</tspan></text>
<polyline class="ln" stroke="#000000" points="184.5,1460.5 190.5,1393.5 197.5,1495.5 204.5,1436.5 211.5,1503.5 217.5,1578.5 224.5,1490.5 231.5,1421.5 238.5,1449.5 245.5,1348.5 251.5,1578.5 258.5,1505.5 265.5,1581.5 272.5,1325.5 278.5,1323.5 285.5,1480.5 292.5,1362.5 299.5,1337.5 306.5,1315.5 312.5,1462.5 319.5,1378.5 326.5,1415.5 333.5,1561.5 339.5,1517.5 346.5,1315.5 353.5,1475.5 360.5,1468.5 367.5,1424.5 373.5,1443.5 380.5,1480.5 387.5,1438.5 394.5,1430.5 400.5,1364.5 407.5,1414.5 414.5,1399.5 421.5,1396.5 428.5,1494.5 434.5,1612.5 441.5,1510.5 448.5,1426.5 455.5,1551.5 461.5,1311.5 468.5,1400.5 475.5,1438.5 482.5,1452.5 489.5,1531.5 495.5,1410.5 502.5,1435.5 509.5,1576.5 516.5,1699.5 522.5,1563.5 529.5,1463.5 536.5,1512.5 543.5,1444.5 550.5,1536.5 556.5,1451.5 563.5,1480.5 570.5,1478.5 577.5,1582.5 583.5,1331.5 590.5,1422.5 597.5,1538.5 604.5,1449.5 611.5,1407.5 617.5,1338.5 624.5,1355.5 631.5,1332.5 638.5,1524.5 644.5,1443.5 651.5,1427.5 658.5,1338.5 665.5,1428.5 672.5,1589.5 678.5,1567.5 685.5,1334.5 692.5,1369.5 699.5,1405.5 705.5,1439.5 712.5,1475.5 719.5,1455.5 726.5,1477.5 733.5,1469.5 739.5,1471.5 746.5,1443.5 753.5,1374.5 760.5,1438.5 766.5,1377.5 773.5,1331.5 780.5,1447.5 787.5,1546.5 794.5,1542.5 800.5,1582.5 807.5,1512.5 814.5,1245.5 821.5,1642.5 828.5,1475.5 834.5,1534.5 841.5,1355.5 848.5,1434.5 855.5,1432.5"/>
<g fill="#000000"><circle cx="184.5" cy="1460.5" r="3.55"/><circle cx="190.5" cy="1393.5" r="3.55"/><circle cx="197.5" cy="1495.5" r="3.55"/><circle cx="204.5" cy="1436.5" r="3.55"/><circle cx="211.5" cy="1503.5" r="3.55"/><circle cx="217.5" cy="1578.5" r="3.55"/><circle cx="224.5" cy="1490.5" r="3.55"/><circle cx="231.5" cy="1421.5" r="3.55"/><circle cx="238.5" cy="1449.5" r="3.55"/><circle cx="245.5" cy="1348.5" r="3.55"/><circle cx="251.5" cy="1578.5" r="3.55"/><circle cx="258.5" cy="1505.5" r="3.55"/><circle cx="265.5" cy="1581.5" r="3.55"/><circle cx="272.5" cy="1325.5" r="3.55"/><circle cx="278.5" cy="1323.5" r="3.55"/><circle cx="285.5" cy="1480.5" r="3.55"/><circle cx="292.5" cy="1362.5" r="3.55"/><circle cx="299.5" cy="1337.5" r="3.55"/><circle cx="306.5" cy="1315.5" r="3.55"/><circle cx="312.5" cy="1462.5" r="3.55"/><circle cx="319.5" cy="1378.5" r="3.55"/><circle cx="326.5" cy="1415.5" r="3.55"/><circle cx="333.5" cy="1561.5" r="3.55"/><circle cx="339.5" cy="1517.5" r="3.55"/><circle cx="346.5" cy="1315.5" r="3.55"/><circle cx="353.5" cy="1475.5" r="3.55"/><circle cx="360.5" cy="1468.5" r="3.55"/><circle cx="367.5" cy="1424.5" r="3.55"/><circle cx="373.5" cy="1443.5" r="3.55"/><circle cx="380.5" cy="1480.5" r="3.55"/><circle cx="387.5" cy="1438.5" r="3.55"/><circle cx="394.5" cy="1430.5" r="3.55"/><circle cx="400.5" cy="1364.5" r="3.55"/><circle cx="407.5" cy="1414.5" r="3.55"/><circle cx="414.5" cy="1399.5" r="3.55"/><circle cx="421.5" cy="1396.5" r="3.55"/><circle cx="428.5" cy="1494.5" r="3.55"/><circle cx="434.5" cy="1612.5" r="3.55"/><circle cx="441.5" cy="1510.5" r="3.55"/><circle cx="448.5" cy="1426.5" r="3.55"/><circle cx="455.5" cy="1551.5" r="3.55"/><circle cx="461.5" cy="1311.5" r="3.55"/><circle cx="468.5" cy="1400.5" r="3.55"/><circle cx="475.5" cy="1438.5" r="3.55"/><circle cx="482.5" cy="1452.5" r="3.55"/><circle cx="489.5" cy="1531.5" r="3.55"/><circle cx="495.5" cy="1410.5" r="3.55"/><circle cx="502.5" cy="1435.5" r="3.55"/><circle cx="509.5" cy="1576.5" r="3.55"/><circle cx="516.5" cy="1699.5" r="3.55"/><circle cx="522.5" cy="1563.5" r="3.55"/><circle cx="529.5" cy="1463.5" r="3.55"/><circle cx="536.5" cy="1512.5" r="3.55"/><circle cx="543.5" cy="1444.5" r="3.55"/><circle cx="550.5" cy="1536.5" r="3.55"/><circle cx="556.5" cy="1451.5" r="3.55"/><circle cx="563.5" cy="1480.5" r="3.55"/><circle cx="570.5" cy="1478.5" r="3.55"/><circle cx="577.5" cy="1582.5" r="3.55"/><circle cx="583.5" cy="1331.5" r="3.55"/><circle cx="590.5" cy="1422.5" r="3.55"/><circle cx="597.5" cy="1538.5" r="3.55"/><circle cx="604.5" cy="1449.5" r="3.55"/><circle cx="611.5" cy="1407.5" r="3.55"/><circle cx="617.5" cy="1338.5" r="3.55"/><circle cx="624.5" cy="1355.5" r="3.55"/><circle cx="631.5" cy="1332.5" r="3.55"/><circle cx="638.5" cy="1524.5" r="3.55"/><circle cx="644.5" cy="1443.5" r="3.55"/><circle cx="651.5" cy="1427.5" r="3.55"/><circle cx="658.5" cy="1338.5" r="3.55"/><circle cx="665.5" cy="1428.5" r="3.55"/><circle cx="672.5" cy="1589.5" r="3.55"/><circle cx="678.5" cy="1567.5" r="3.55"/><circle cx="685.5" cy="1334.5" r="3.55"/><circle cx="692.5" cy="1369.5" r="3.55"/><circle cx="699.5" cy="1405.5" r="3.55"/><circle cx="705.5" cy="1439.5" r="3.55"/><circle cx="712.5" cy="1475.5" r="3.55"/><circle cx="719.5" cy="1455.5" r="3.55"/><circle cx="726.5" cy="1477.5" r="3.55"/><circle cx="733.5" cy="1469.5" r="3.55"/><circle cx="739.5" cy="1471.5" r="3.55"/><circle cx="746.5" cy="1443.5" r="3.55"/><circle cx="753.5" cy="1374.5" r="3.55"/><circle cx="760.5" cy="1438.5" r="3.55"/><circle cx="766.5" cy="1377.5" r="3.55"/><circle cx="773.5" cy="1331.5" r="3.55"/><circle cx="780.5" cy="1447.5" r="3.55"/><circle cx="787.5" cy="1546.5" r="3.55"/><circle cx="794.5" cy="1542.5" r="3.55"/><circle cx="800.5" cy="1582.5" r="3.55"/><circle cx="807.5" cy="1512.5" r="3.55"/><circle cx="814.5" cy="1245.5" r="3.55"/><circle cx="821.5" cy="1642.5" r="3.55"/><circle cx="828.5" cy="1475.5" r="3.55"/><circle cx="834.5" cy="1534.5" r="3.55"/><circle cx="841.5" cy="1355.5" r="3.55"/><circle cx="848.5" cy="1434.5" r="3.55"/><circle cx="855.5" cy="1432.5" r="3.55"/></g>
</g>
<g id="pad4">
<text><tspan x="1304.13" y="1049.9" font-size="43.6" textLength="377.98" lengthAdjust="spacingAndGlyphs">probability distance</tspan></text>
<rect class="ax" x="1161.5" y="1100.5" width="719" height="710"/>
<path class="ax" d="M1182.5 1811V1788M1215.5 1811V1799M1249.5 1811V1799M1283.5 1811V1799M1317.5 1811V1788M1351.5 1811V1799M1385.5 1811V1799M1419.5 1811V1799M1453.5 1811V1788M1487.5 1811V1799M1520.5 1811V1799M1554.5 1811V1799M1588.5 1811V1788M1622.5 1811V1799M1656.5 1811V1799M1690.5 1811V1799M1724.5 1811V1788M1758.5 1811V1799M1792.5 1811V1799M1826.5 1811V1799M1859.5 1811V1788M1161 1810.5H1184M1161 1796.5H1173M1161 1781.5H1173M1161 1767.5H1173M1161 1753.5H1173M1161 1739.5H1184M1161 1725.5H1173M1161 1710.5H1173M1161 1696.5H1173M1161 1682.5H1173M1161 1668.5H1184M1161 1654.5H1173M1161 1639.5H1173M1161 1625.5H1173M1161 1611.5H1173M1161 1597.5H1184M1161 1583.5H1173M1161 1568.5H1173M1161 1554.5H1173M1161 1540.5H1173M1161 1526.5H1184M1161 1512.5H1173M1161 1497.5H1173M1161 1483.5H1173M1161 1469.5H1173M1161 1455.5H1184M1161 1441.5H1173M1161 1426.5H1173M1161 1412.5H1173M1161 1398.5H1173M1161 1384.5H1184M1161 1370.5H1173M1161 1355.5H1173M1161 1341.5H1173M1161 1327.5H1173M1161 1313.5H1184M1161 1299.5H1173M1161 1284.5H1173M1161 1270.5H1173M1161 1256.5H1173M1161 1242.5H1184M1161 1228.5H1173M1161 1213.5H1173M1161 1199.5H1173M1161 1185.5H1173M1161 1171.5H1184M1161 1157.5H1173M1161 1142.5H1173M1161 1128.5H1173M1161 1114.5H1173M1161 1100.5H1184"/>
<text class="b" x="1138.18" y="1823.9" font-size="37" textLength="19.56" lengthAdjust="spacingAndGlyphs">0</text>
<text class="b" x="1113.9" y="1752.9" font-size="37" textLength="48.91" lengthAdjust="spacingAndGlyphs" clip-path="url(#c7)">0.1</text>
<text class="b" x="1108.83" y="1681.91" font-size="37" textLength="48.91" lengthAdjust="spacingAndGlyphs">0.2</text>
<text class="b" x="1108.66" y="1610.92" font-size="37" textLength="48.91" lengthAdjust="spacingAndGlyphs">0.3</text>
<text class="b" x="1107.6" y="1539.93" font-size="37" textLength="48.91" lengthAdjust="spacingAndGlyphs">0.4</text>
<text class="b" x="1108.3" y="1468.94" font-size="37" textLength="48.91" lengthAdjust="spacingAndGlyphs">0.5</text>
<text class="b" x="1108.66" y="1397.94" font-size="37" textLength="48.91" lengthAdjust="spacingAndGlyphs">0.6</text>
<text class="b" x="1109.01" y="1326.95" font-size="37" textLength="48.91" lengthAdjust="spacingAndGlyphs">0.7</text>
<text class="b" x="1108.48" y="1255.96" font-size="37" textLength="48.91" lengthAdjust="spacingAndGlyphs">0.8</text>
<text class="b" x="1108.66" y="1184.97" font-size="37" textLength="48.91" lengthAdjust="spacingAndGlyphs">0.9</text>
<text class="b" x="1143.25" y="1113.98" font-size="37" textLength="19.56" lengthAdjust="spacingAndGlyphs" clip-path="url(#c8)">1</text>
<text class="b" x="1172.24" y="1845.5" font-size="37" textLength="19.56" lengthAdjust="spacingAndGlyphs">0</text>
<text class="b" x="1298.13" y="1845.5" font-size="37" textLength="39.13" lengthAdjust="spacingAndGlyphs">20</text>
<text class="b" x="1434.06" y="1845.5" font-size="37" textLength="39.13" lengthAdjust="spacingAndGlyphs">40</text>
<text class="b" x="1569.28" y="1845.5" font-size="37" textLength="39.13" lengthAdjust="spacingAndGlyphs">60</text>
<text class="b" x="1704.95" y="1845.5" font-size="37" textLength="39.13" lengthAdjust="spacingAndGlyphs">80</text>
<text class="b" x="1830.13" y="1845.5" font-size="37" textLength="58.69" lengthAdjust="spacingAndGlyphs" clip-path="url(#c9)">100</text>
<text><tspan class="b" x="1775.42" y="1886.2" font-size="35.8" textLength="107.1" lengthAdjust="spacingAndGlyphs">Epoch</tspan></text>
<text clip-path="url(#c10)"><tspan class="x" x="1879.27" y="1811.3" font-size="34.3" textLength="28.96" lengthAdjust="spacingAndGlyphs">×</tspan><tspan class="b" x="1902.57" y="1810.3" font-size="37" textLength="39.95" lengthAdjust="spacingAndGlyphs">10</tspan><tspan class="b" x="1940.61" y="1793.4" font-size="25.2" textLength="13.15" lengthAdjust="spacingAndGlyphs">3</tspan></text>
<polyline class="ln" stroke="#000000" points="1182.5,1169.5 1188.5,1762.5 1195.5,1742.5 1202.5,1774.5 1209.5,1800.5 1215.5,1797.5 1222.5,1773.5 1229.5,1760.5 1236.5,1783.5 1243.5,1764.5 1249.5,1787.5 1256.5,1797.5 1263.5,1798.5 1270.5,1799.5 1276.5,1804.5 1283.5,1792.5 1290.5,1780.5 1297.5,1787.5 1304.5,1779.5 1310.5,1776.5 1317.5,1785.5 1324.5,1783.5 1331.5,1782.5 1337.5,1780.5 1344.5,1795.5 1351.5,1795.5 1358.5,1781.5 1365.5,1789.5 1371.5,1779.5 1378.5,1795.5 1385.5,1798.5 1392.5,1805.5 1398.5,1796.5 1405.5,1794.5 1412.5,1805.5 1419.5,1802.5 1426.5,1796.5 1432.5,1798.5 1439.5,1798.5 1446.5,1795.5 1453.5,1796.5 1459.5,1779.5 1466.5,1804.5 1473.5,1789.5 1480.5,1777.5 1487.5,1797.5 1493.5,1801.5 1500.5,1801.5 1507.5,1801.5 1514.5,1804.5 1520.5,1789.5 1527.5,1791.5 1534.5,1801.5 1541.5,1788.5 1548.5,1801.5 1554.5,1779.5 1561.5,1798.5 1568.5,1794.5 1575.5,1780.5 1581.5,1804.5 1588.5,1785.5 1595.5,1795.5 1602.5,1784.5 1609.5,1798.5 1615.5,1791.5 1622.5,1799.5 1629.5,1797.5 1636.5,1801.5 1642.5,1796.5 1649.5,1776.5 1656.5,1800.5 1663.5,1784.5 1670.5,1780.5 1676.5,1783.5 1683.5,1803.5 1690.5,1779.5 1697.5,1786.5 1703.5,1786.5 1710.5,1796.5 1717.5,1783.5 1724.5,1788.5 1731.5,1799.5 1737.5,1786.5 1744.5,1792.5 1751.5,1778.5 1758.5,1769.5 1764.5,1784.5 1771.5,1803.5 1778.5,1801.5 1785.5,1775.5 1792.5,1798.5 1798.5,1787.5 1805.5,1792.5 1812.5,1769.5 1819.5,1786.5 1826.5,1786.5 1832.5,1782.5 1839.5,1782.5 1846.5,1801.5 1853.5,1785.5"/>
<g fill="#000000"><circle cx="1182.5" cy="1169.5" r="3.55"/><circle cx="1188.5" cy="1762.5" r="3.55"/><circle cx="1195.5" cy="1742.5" r="3.55"/><circle cx="1202.5" cy="1774.5" r="3.55"/><circle cx="1209.5" cy="1800.5" r="3.55"/><circle cx="1215.5" cy="1797.5" r="3.55"/><circle cx="1222.5" cy="1773.5" r="3.55"/><circle cx="1229.5" cy="1760.5" r="3.55"/><circle cx="1236.5" cy="1783.5" r="3.55"/><circle cx="1243.5" cy="1764.5" r="3.55"/><circle cx="1249.5" cy="1787.5" r="3.55"/><circle cx="1256.5" cy="1797.5" r="3.55"/><circle cx="1263.5" cy="1798.5" r="3.55"/><circle cx="1270.5" cy="1799.5" r="3.55"/><circle cx="1276.5" cy="1804.5" r="3.55"/><circle cx="1283.5" cy="1792.5" r="3.55"/><circle cx="1290.5" cy="1780.5" r="3.55"/><circle cx="1297.5" cy="1787.5" r="3.55"/><circle cx="1304.5" cy="1779.5" r="3.55"/><circle cx="1310.5" cy="1776.5" r="3.55"/><circle cx="1317.5" cy="1785.5" r="3.55"/><circle cx="1324.5" cy="1783.5" r="3.55"/><circle cx="1331.5" cy="1782.5" r="3.55"/><circle cx="1337.5" cy="1780.5" r="3.55"/><circle cx="1344.5" cy="1795.5" r="3.55"/><circle cx="1351.5" cy="1795.5" r="3.55"/><circle cx="1358.5" cy="1781.5" r="3.55"/><circle cx="1365.5" cy="1789.5" r="3.55"/><circle cx="1371.5" cy="1779.5" r="3.55"/><circle cx="1378.5" cy="1795.5" r="3.55"/><circle cx="1385.5" cy="1798.5" r="3.55"/><circle cx="1392.5" cy="1805.5" r="3.55"/><circle cx="1398.5" cy="1796.5" r="3.55"/><circle cx="1405.5" cy="1794.5" r="3.55"/><circle cx="1412.5" cy="1805.5" r="3.55"/><circle cx="1419.5" cy="1802.5" r="3.55"/><circle cx="1426.5" cy="1796.5" r="3.55"/><circle cx="1432.5" cy="1798.5" r="3.55"/><circle cx="1439.5" cy="1798.5" r="3.55"/><circle cx="1446.5" cy="1795.5" r="3.55"/><circle cx="1453.5" cy="1796.5" r="3.55"/><circle cx="1459.5" cy="1779.5" r="3.55"/><circle cx="1466.5" cy="1804.5" r="3.55"/><circle cx="1473.5" cy="1789.5" r="3.55"/><circle cx="1480.5" cy="1777.5" r="3.55"/><circle cx="1487.5" cy="1797.5" r="3.55"/><circle cx="1493.5" cy="1801.5" r="3.55"/><circle cx="1500.5" cy="1801.5" r="3.55"/><circle cx="1507.5" cy="1801.5" r="3.55"/><circle cx="1514.5" cy="1804.5" r="3.55"/><circle cx="1520.5" cy="1789.5" r="3.55"/><circle cx="1527.5" cy="1791.5" r="3.55"/><circle cx="1534.5" cy="1801.5" r="3.55"/><circle cx="1541.5" cy="1788.5" r="3.55"/><circle cx="1548.5" cy="1801.5" r="3.55"/><circle cx="1554.5" cy="1779.5" r="3.55"/><circle cx="1561.5" cy="1798.5" r="3.55"/><circle cx="1568.5" cy="1794.5" r="3.55"/><circle cx="1575.5" cy="1780.5" r="3.55"/><circle cx="1581.5" cy="1804.5" r="3.55"/><circle cx="1588.5" cy="1785.5" r="3.55"/><circle cx="1595.5" cy="1795.5" r="3.55"/><circle cx="1602.5" cy="1784.5" r="3.55"/><circle cx="1609.5" cy="1798.5" r="3.55"/><circle cx="1615.5" cy="1791.5" r="3.55"/><circle cx="1622.5" cy="1799.5" r="3.55"/><circle cx="1629.5" cy="1797.5" r="3.55"/><circle cx="1636.5" cy="1801.5" r="3.55"/><circle cx="1642.5" cy="1796.5" r="3.55"/><circle cx="1649.5" cy="1776.5" r="3.55"/><circle cx="1656.5" cy="1800.5" r="3.55"/><circle cx="1663.5" cy="1784.5" r="3.55"/><circle cx="1670.5" cy="1780.5" r="3.55"/><circle cx="1676.5" cy="1783.5" r="3.55"/><circle cx="1683.5" cy="1803.5" r="3.55"/><circle cx="1690.5" cy="1779.5" r="3.55"/><circle cx="1697.5" cy="1786.5" r="3.55"/><circle cx="1703.5" cy="1786.5" r="3.55"/><circle cx="1710.5" cy="1796.5" r="3.55"/><circle cx="1717.5" cy="1783.5" r="3.55"/><circle cx="1724.5" cy="1788.5" r="3.55"/><circle cx="1731.5" cy="1799.5" r="3.55"/><circle cx="1737.5" cy="1786.5" r="3.55"/><circle cx="1744.5" cy="1792.5" r="3.55"/><circle cx="1751.5" cy="1778.5" r="3.55"/><circle cx="1758.5" cy="1769.5" r="3.55"/><circle cx="1764.5" cy="1784.5" r="3.55"/><circle cx="1771.5" cy="1803.5" r="3.55"/><circle cx="1778.5" cy="1801.5" r="3.55"/><circle cx="1785.5" cy="1775.5" r="3.55"/><circle cx="1792.5" cy="1798.5" r="3.55"/><circle cx="1798.5" cy="1787.5" r="3.55"/><circle cx="1805.5" cy="1792.5" r="3.55"/><circle cx="1812.5" cy="1769.5" r="3.55"/><circle cx="1819.5" cy="1786.5" r="3.55"/><circle cx="1826.5" cy="1786.5" r="3.55"/><circle cx="1832.5" cy="1782.5" r="3.55"/><circle cx="1839.5" cy="1782.5" r="3.55"/><circle cx="1846.5" cy="1801.5" r="3.55"/><circle cx="1853.5" cy="1785.5" r="3.55"/></g>
</g>
</svg></body></html>
